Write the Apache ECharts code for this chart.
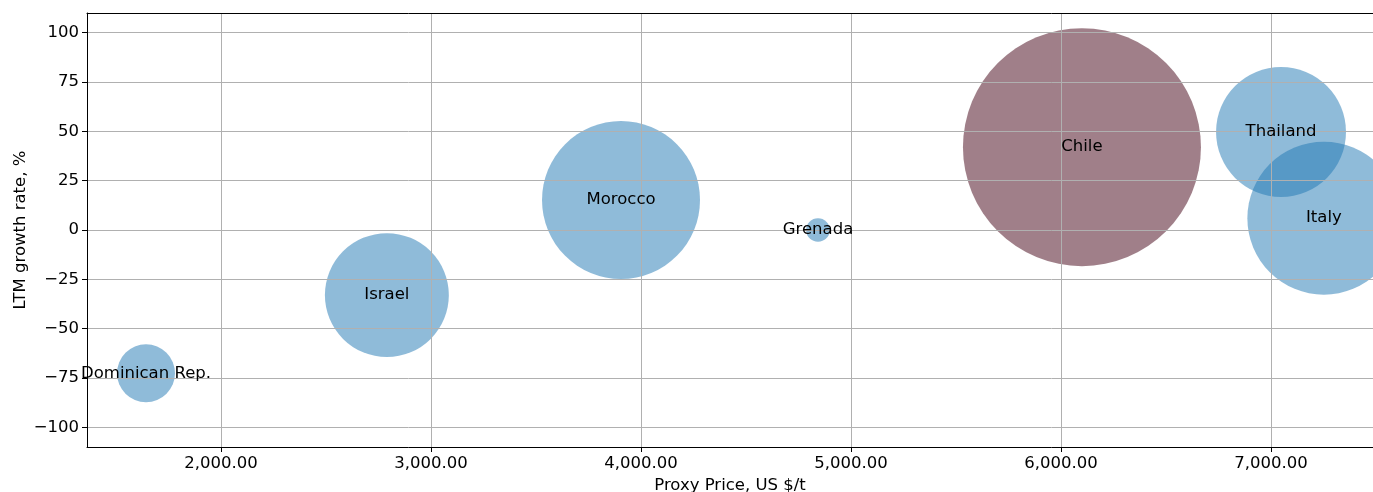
<!DOCTYPE html>
<html lang="en">
<head>
    <meta charset="UTF-8">
    <title>Proxy price vs LTM growth</title>
    <script src="https://cdn.jsdelivr.net/npm/echarts@6/dist/echarts.min.js"></script>
    <style>
        html, body { margin: 0; padding: 0; background: #fff; }
        #main { width: 1373px; height: 492px; }
    </style>
</head>
<body>
<div id="main"></div>
<script>
    // data
    var countries = ['Dominican Rep.', 'Israel', 'Morocco', 'Grenada', 'Chile', 'Thailand', 'Italy'];
    var proxyPrice = [1643, 2790, 3905, 4843, 6100, 7048, 7252];     // US $/t
    var growthRate = [-72.6, -33, 15.2, 0, 42, 49.7, 6];             // LTM growth, %
    var tradeVolume = [84, 384, 624, 14, 1416, 422, 585];            // bubble area, relative
    var highlight = ['Chile'];

    var xTicks = [2000, 3000, 4000, 5000, 6000, 7000];
    var yTicks = [-100, -75, -50, -25, 0, 25, 50, 75, 100];

    var blue = 'rgba(31,119,180,0.5)';
    var maroon = 'rgba(65,0,20,0.5)';
    var font = 'DejaVu Sans';
    var fs = 16.5;

    function fmtPrice(v) {
        return v.toFixed(2).replace(/\B(?=(\d{3})+(?!\d))/g, ',');
    }

    var points = countries.map(function (c, i) {
        return {
            name: c,
            value: [proxyPrice[i], growthRate[i], tradeVolume[i]],
            itemStyle: { color: highlight.indexOf(c) >= 0 ? maroon : blue, opacity: 1 }
        };
    });

    var chart = echarts.init(document.getElementById('main'));
    chart.setOption({
        animation: false,
        grid: { left: 87, right: 0, top: 13, bottom: 45, outerBoundsMode: 'none', containLabel: false },
        xAxis: [{
            type: 'value',
            z: 5,
            min: 1362, max: 7486,
            name: 'Proxy Price, US $/t',
            nameLocation: 'middle',
            nameGap: 30,
            nameTextStyle: { fontFamily: font, fontSize: fs, color: '#000' },
            axisLine: { onZero: false, lineStyle: { color: '#000', width: 1 } },
            axisTick: { show: true, length: 5, lineStyle: { color: '#000' },
                customValues: xTicks },
            axisLabel: { fontFamily: font, fontSize: fs, color: '#000', margin: 8,
                customValues: xTicks, formatter: fmtPrice },
            splitLine: { show: true, lineStyle: { color: '#b0b0b0', width: 1 } }
        }, {
            type: 'value',
            z: 5,
            position: 'top',
            min: 1362, max: 7486,
            axisLine: { show: true, onZero: false, lineStyle: { color: '#000', width: 1 } },
            axisTick: { show: false },
            axisLabel: { show: false },
            splitLine: { show: false }
        }],
        yAxis: {
            type: 'value',
            z: 5,
            min: -110, max: 110,
            name: 'LTM growth rate, %',
            nameLocation: 'middle',
            nameGap: 58,
            nameMoveOverlap: false,
            nameRotate: 90,
            nameTextStyle: { fontFamily: font, fontSize: fs, color: '#000' },
            axisLine: { show: true, onZero: false, lineStyle: { color: '#000', width: 1 } },
            axisTick: { show: true, length: 5, lineStyle: { color: '#000' },
                customValues: yTicks },
            axisLabel: { fontFamily: font, fontSize: fs, color: '#000', margin: 8,
                customValues: yTicks,
                formatter: function (v) { return v < 0 ? '\u2212' + (-v) : String(v); } },
            splitLine: { show: true, lineStyle: { color: '#b0b0b0', width: 1 } }
        },
        series: [{
            // bubbles, under the grid lines
            type: 'scatter',
            clip: true,
            z: 1,
            data: points,
            symbolSize: function (val) { return 2 * Math.sqrt(val[2] * 10); },
            label: { show: false }
        }, {
            // country names, above the grid lines
            type: 'scatter',
            z: 10,
            silent: true,
            data: points,
            symbolSize: 0,
            itemStyle: { opacity: 0 },
            label: {
                show: true,
                position: 'inside',
                formatter: '{b}',
                fontFamily: font,
                fontSize: fs,
                color: '#000'
            }
        }]
    });
</script>
</body>
</html>
